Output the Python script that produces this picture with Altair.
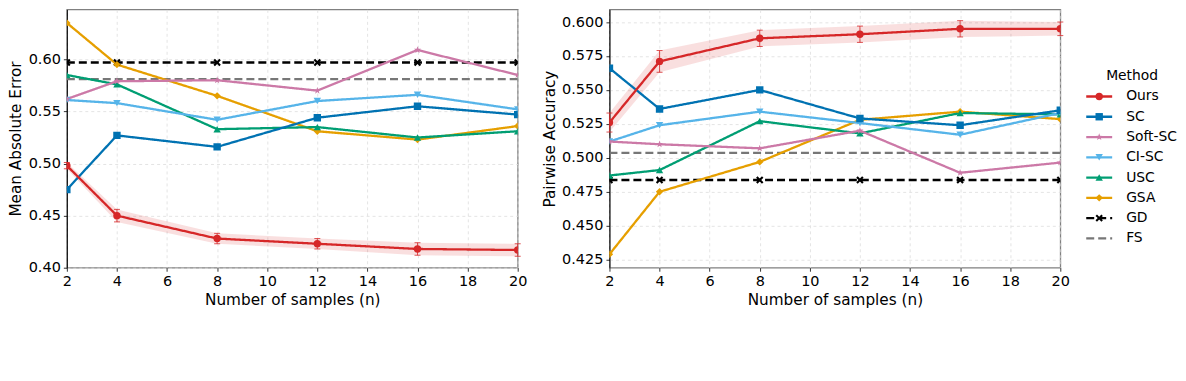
import altair as alt
import pandas as pd

n_vals = [2, 4, 8, 12, 16, 20]
methods = ["Ours", "SC", "Soft-SC", "CI-SC", "USC", "GSA", "GD", "FS"]
colors = ["#d62728", "#0072b2", "#cc79a7", "#56b4e9", "#009e73", "#e69f00", "#000000", "#777777"]
draw_order = ["GD", "FS", "GSA", "USC", "CI-SC", "Soft-SC", "SC", "Ours"]

STAR = "M0,-1L0.235,-0.324L0.951,-0.309L0.38,0.124L0.588,0.809L0,0.4L-0.588,0.809L-0.38,0.124L-0.951,-0.309L-0.235,-0.324Z"
XSHAPE = "M-1,-0.6L-0.6,-1L0,-0.4L0.6,-1L1,-0.6L0.4,0L1,0.6L0.6,1L0,0.4L-0.6,1L-1,0.6L-0.4,0Z"
shapes = ["circle", "square", STAR, "triangle-down", "triangle-up", "diamond", XSHAPE, "circle"]
dashes = [[1, 0]] * 6 + [[8, 4], [8, 4]]

# Left panel: Mean Absolute Error
mae_ours = [0.498, 0.450, 0.428, 0.423, 0.418, 0.417]
mae_ours_err = [0.003, 0.006, 0.005, 0.005, 0.006, 0.006]
mae_sc = [0.475, 0.527, 0.516, 0.544, 0.555, 0.547]
mae_soft = [0.562, 0.579, 0.580, 0.570, 0.609, 0.585]
mae_ci = [0.561, 0.558, 0.542, 0.560, 0.566, 0.552]
mae_usc = [0.585, 0.576, 0.533, 0.535, 0.525, 0.531]
mae_gsa = [0.635, 0.595, 0.565, 0.531, 0.523, 0.536]
mae_gd = 0.597
mae_fs = 0.581

# Right panel: Pairwise Accuracy
pa_ours = [0.526, 0.571, 0.588, 0.591, 0.595, 0.595]
pa_ours_err = [0.007, 0.008, 0.006, 0.006, 0.006, 0.005]
pa_sc = [0.566, 0.536, 0.550, 0.529, 0.524, 0.535]
pa_soft = [0.512, 0.510, 0.507, 0.520, 0.489, 0.4965]
pa_ci = [0.512, 0.524, 0.534, 0.5256, 0.517, 0.533]
pa_usc = [0.487, 0.491, 0.527, 0.518, 0.533, 0.532]
pa_gsa = [0.429, 0.475, 0.497, 0.528, 0.534, 0.5285]
pa_gd = 0.4837
pa_fs = 0.5036

mae_ticks = [0.40, 0.45, 0.50, 0.55, 0.60]
pa_ticks = [0.425, 0.450, 0.475, 0.500, 0.525, 0.550, 0.575, 0.600]

color_scale = alt.Scale(domain=methods, range=colors)
shape_scale = alt.Scale(domain=methods, range=shapes)
dash_scale = alt.Scale(domain=methods, range=dashes)
RED = "#d62728"


def panel(series, gd, fs, ours_err, ydom, yticks, yfmt, ytitle):
    rows = []
    vals_by = dict(series)
    vals_by["GD"] = [gd] * len(n_vals)
    vals_by["FS"] = [fs] * len(n_vals)
    for m in draw_order:
        for n, v in zip(n_vals, vals_by[m]):
            rows.append({"n": n, "Method": m, "value": v})
    df = pd.DataFrame(rows)
    ours = series["Ours"]
    ours_df = pd.DataFrame({
        "n": n_vals,
        "lo": [v - e for v, e in zip(ours, ours_err)],
        "hi": [v + e for v, e in zip(ours, ours_err)],
    })
    x = alt.X("n:Q", scale=alt.Scale(domain=[2, 20], nice=False),
              axis=alt.Axis(values=list(range(2, 21, 2)), format="d", labelFlush=False,
                            title="Number of samples (n)", domain=False))
    yscale = alt.Scale(domain=ydom, nice=False, zero=False)
    yaxis = alt.Axis(values=yticks, format=yfmt, title=ytitle, labelFlush=False)
    band = alt.Chart(ours_df).mark_area(color=RED, opacity=0.15).encode(
        x=x, y=alt.Y("lo:Q", scale=yscale, axis=yaxis), y2="hi:Q")
    err = alt.Chart(ours_df).mark_rule(color=RED, strokeWidth=1, opacity=0.8).encode(
        x=x, y=alt.Y("lo:Q", scale=yscale, axis=yaxis), y2="hi:Q")
    cap_lo = alt.Chart(ours_df).mark_tick(orient="horizontal", size=6, thickness=1,
                                          color=RED, opacity=0.8).encode(
        x=x, y=alt.Y("lo:Q", scale=yscale, axis=yaxis))
    cap_hi = alt.Chart(ours_df).mark_tick(orient="horizontal", size=6, thickness=1,
                                          color=RED, opacity=0.8).encode(
        x=x, y=alt.Y("hi:Q", scale=yscale, axis=yaxis))
    y = alt.Y("value:Q", scale=yscale, axis=yaxis)
    lines = alt.Chart(df).mark_line(strokeWidth=2.3, clip=True).encode(
        x=x, y=y,
        color=alt.Color("Method:N", scale=color_scale, legend=None),
        strokeDash=alt.StrokeDash("Method:N", scale=dash_scale, legend=None),
        detail="Method:N",
    )
    points = alt.Chart(df[df["Method"] != "FS"]).mark_point(
        filled=True, size=55, opacity=1, clip=True).encode(
        x=x, y=y,
        color=alt.Color("Method:N", scale=color_scale, legend=None),
        shape=alt.Shape("Method:N", scale=shape_scale, legend=None),
    )
    return alt.layer(band, err, cap_lo, cap_hi, lines, points).properties(width=452, height=259)


left = panel({"Ours": mae_ours, "SC": mae_sc, "Soft-SC": mae_soft, "CI-SC": mae_ci,
              "USC": mae_usc, "GSA": mae_gsa}, mae_gd, mae_fs, mae_ours_err,
             [0.40, 0.648], mae_ticks, ".2f", "Mean Absolute Error")
right = panel({"Ours": pa_ours, "SC": pa_sc, "Soft-SC": pa_soft, "CI-SC": pa_ci,
               "USC": pa_usc, "GSA": pa_gsa}, pa_gd, pa_fs, pa_ours_err,
              [0.4191, 0.6093], pa_ticks, ".3f", "Pairwise Accuracy")

# Legend drawn as its own small chart
legend_rows = ["Method"] + methods
leg_df = pd.DataFrame({"Method": methods})
title_df = pd.DataFrame({"Method": ["Method"]})
ly = alt.Y("Method:N", scale=alt.Scale(type="point", domain=legend_rows,
                                        range=[67, 229.6], padding=0), axis=None)
lcolor = alt.Color("Method:N", scale=color_scale, legend=None)
leg_rule = alt.Chart(leg_df).mark_rule(strokeWidth=2.3).encode(
    y=ly, x=alt.value(0), x2=alt.value(26), color=lcolor,
    strokeDash=alt.StrokeDash("Method:N", scale=dash_scale, legend=None))
leg_pt = alt.Chart(leg_df[leg_df["Method"] != "FS"]).mark_point(
    filled=True, size=55, opacity=1).encode(
    y=ly, x=alt.value(13), color=lcolor,
    shape=alt.Shape("Method:N", scale=shape_scale, legend=None))
leg_txt = alt.Chart(leg_df).mark_text(align="left", baseline="middle", fontSize=13.9,
                                      color="black").encode(
    y=ly, x=alt.value(40), text="Method:N")
leg_title = alt.Chart(title_df).mark_text(align="center", baseline="middle",
                                          fontSize=13.9, color="black").encode(
    y=ly, x=alt.value(46), text="Method:N")
legend = alt.layer(leg_rule, leg_pt, leg_txt, leg_title).properties(
    width=92, height=259, view=alt.ViewBackground(strokeOpacity=0))

chart = alt.hconcat(alt.hconcat(left, right, spacing=13), legend, spacing=14).configure(
    font="DejaVu Sans",
    padding={"left": 0, "top": 0, "right": 0, "bottom": 0},
).configure_axis(
    labelFont="DejaVu Sans", titleFont="DejaVu Sans",
    labelFontSize=14.5, titleFontSize=15.3, titleFontWeight="normal",
    labelColor="black", titleColor="black",
    tickColor="black", tickSize=3.5, tickWidth=0.8,
    domainColor="black", domainWidth=1,
    gridColor="#dddddd", gridDash=[3, 3], gridWidth=0.8,
    labelPadding=3, titlePadding=4.5,
).configure_view(stroke="#808080", strokeWidth=1.3)

chart.save("out.html", embed_options={"renderer": "svg", "actions": False})
